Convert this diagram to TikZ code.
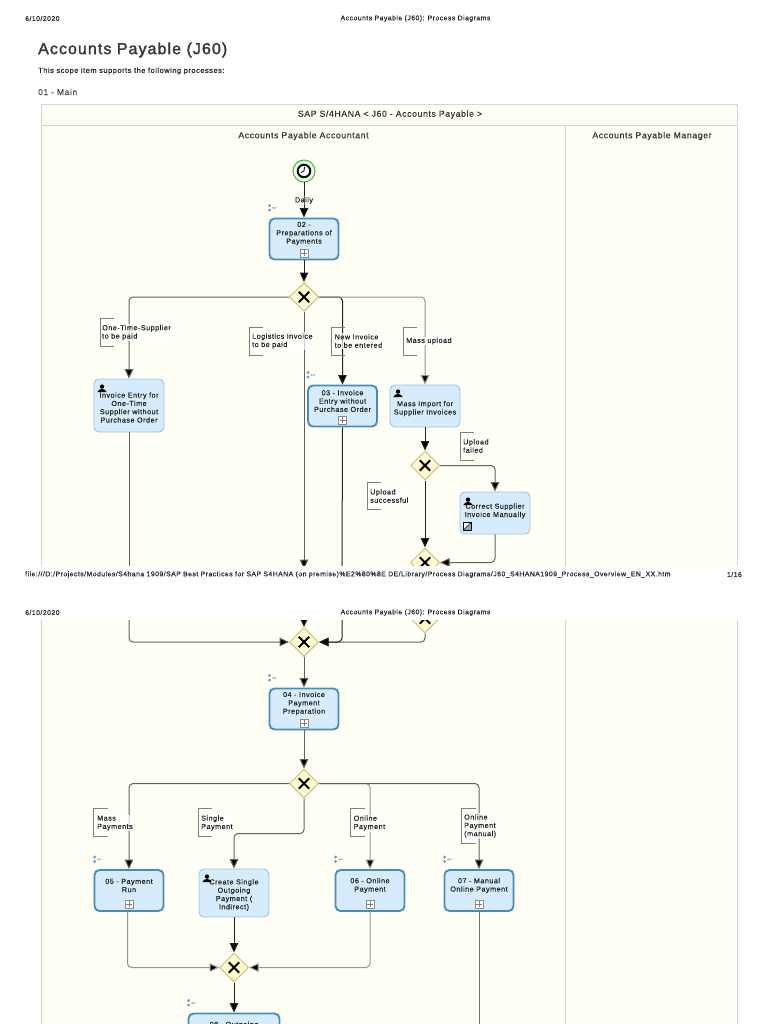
\documentclass[tikz,border=0pt]{standalone}
\usepackage{fontspec}
\setmainfont{Liberation Sans}[LetterSpace=7,FakeBold=0.25]
\usetikzlibrary{arrows.meta,shapes.geometric,calc}
\definecolor{poolbg}{HTML}{FFFFF6}
\definecolor{poolline}{HTML}{D6D6CE}
\definecolor{taskfill}{HTML}{D6EBFC}
\definecolor{taskedge}{HTML}{9CC4DE}
\definecolor{subedge}{HTML}{4A8DB4}
\definecolor{gatefill}{HTML}{FFFBCF}
\definecolor{gateedge}{HTML}{CDBE8A}
\definecolor{inkc}{HTML}{222222}
\newcommand{\tasklabel}[2]{\smash{\raisebox{\dimexpr #1pt-3pt\relax}{\parbox{68pt}{\centering\fontsize{7.2}{8.3}\selectfont #2}}}}
\tikzset{
  x=1pt,y=-1pt,
  taskbase/.style={draw,rounded corners=5pt,fill=taskfill,inner sep=0pt,text=inkc},
  usertask/.style={taskbase,draw=taskedge,line width=0.9pt,minimum width=70pt},
  subtask/.style={taskbase,draw=subedge,line width=1.9pt,minimum width=69pt,minimum height=41pt},
  gateway/.style={diamond,aspect=1,draw=gateedge,line width=1pt,fill=gatefill,minimum size=29pt,inner sep=0pt,
    path picture={\draw[black,line width=1.9pt]
      ($(path picture bounding box.center)+(-5.2,-5.2)$)--($(path picture bounding box.center)+(5.2,5.2)$)
      ($(path picture bounding box.center)+(-5.2,5.2)$)--($(path picture bounding box.center)+(5.2,-5.2)$);}},
  conn/.style={draw=inkc,line width=1pt,rounded corners=4pt,-{Triangle[length=9.5pt,width=8.5pt,fill=black]}},
  connmid/.style={conn,draw=black!62},
  connlight/.style={conn,draw=black!42},
  plainconn/.style={draw=inkc,line width=1pt,rounded corners=4pt},
  annotext/.style={anchor=west,align=left,inner sep=1pt,fill=white,fill opacity=0.7,text opacity=1,text=inkc,
     font=\fontsize{7.2}{8.3}\selectfont},
  bracket/.style={draw=black!50,line width=0.6pt},
  pagetext/.style={inner sep=0pt,text=black!85,font=\fontsize{6.85}{8}\selectfont},
  lanetext/.style={inner sep=0pt,text=black!80,font=\fontsize{8.7}{10}\selectfont},
  poolrule/.style={draw=poolline,line width=1.4pt},
  plusbox/.style={draw=black!45,line width=0.5pt,fill=white,minimum size=8pt,inner sep=0pt},
  pics/marker/.style={code={
    \fill[subedge!85] (0,0.5) circle (1.6) (0,5) circle (1.6) (3.5,2.8) circle (0.9);
    \draw[subedge!60,line width=0.5pt] (4.5,2)--(7,2.8)--(4.5,3.6);}},
  pics/person/.style={code={
    \fill[black] (0,-2.4) circle (2.2);
    \fill[black] (-4.8,3.2) .. controls (-4.5,0.6) and (-1.5,0.4) .. (0,0) .. controls (1.5,0.4) and (4.5,0.6) .. (4.8,3.2) -- cycle;}},
  pics/plus/.style={code={
    \node[plusbox] {};
    \draw[black!50,line width=0.5pt] (-3,0)--(3,0) (0,-3)--(0,3);}}
}
\begin{document}
\begin{tikzpicture}
\useasboundingbox (0,0) rectangle (768,1024);
\clip (0,0) rectangle (768,1024);
\fill[white] (0,0) rectangle (768,1024);
% pool
\fill[poolbg] (41,104) rectangle (738,1024);
\draw[poolrule] (41.5,1024) -- (41.5,104.5) -- (737.5,104.5) -- (737.5,1024);
\draw[poolrule] (41.5,125.5) -- (737.5,125.5);
\draw[poolrule] (565.5,125.5) -- (565.5,1024);

% ---------- page 1 nodes
\node[circle,draw=green!55!black!70,line width=1pt,fill=green!12!white,minimum size=22pt,inner sep=0pt] (start) at (304,171) {};
\node[circle,draw=black,line width=2pt,fill=white,minimum size=12.5pt,inner sep=0pt] (clock) at (304,171) {};
\draw[black,line width=0.8pt] (clock.center) -- +(0.5,-4) (clock.center) -- +(-2.8,1.5);
\node[subtask] (t02) at (304,239) {\tasklabel{6}{02 -\\Preparations of\\Payments}};
\node[gateway] (g1) at (304,297) {};
\node[usertask,minimum height=53pt] (t01) at (129,405.5) {\tasklabel{-1.5}{Invoice Entry for\\One-Time\\Supplier without\\Purchase Order}};
\node[subtask] (t03) at (342.5,406) {\tasklabel{5.5}{03 - Invoice\\Entry without\\Purchase Order}};
\node[usertask,minimum height=42pt] (tmass) at (425,406) {\tasklabel{-2}{Mass Import for\\Supplier Invoices}};
\node[gateway] (g2) at (425,465.5) {};
\node[usertask,minimum height=42pt] (tcorr) at (495,513) {\tasklabel{2.5}{Correct Supplier\\Invoice Manually}};
\node[gateway] (g3) at (425,562.5) {};
\coordinate (b1) at (129,570);
\coordinate (b2) at (304,569);
\coordinate (b3) at (342,570);

% ---------- page 2 nodes
\coordinate (a1) at (129,612);
\coordinate (a2) at (304,612);
\coordinate (a3) at (342,612);
\node[gateway] (g3b) at (425,618.5) {};
\node[gateway] (g4) at (304,642) {};
\node[subtask] (t04) at (304,709) {\tasklabel{6}{04 - Invoice\\Payment\\Preparation}};
\node[gateway] (g5) at (304,783.5) {};
\node[subtask] (t05) at (129,890.5) {\tasklabel{5.5}{05 - Payment\\Run}};
\node[usertask,minimum height=48pt] (tsingle) at (234,893) {\tasklabel{-1.5}{Create Single\\Outgoing\\Payment (\\Indirect)}};
\node[subtask] (t06) at (370,890.5) {\tasklabel{5.5}{06 - Online\\Payment}};
\node[subtask] (t07) at (479,890.5) {\tasklabel{5.5}{07 - Manual\\Online Payment}};
\node[gateway] (g6) at (234,967.5) {};
\node[subtask,minimum width=91pt,minimum height=42pt] (t08) at (234,1034.5) {\tasklabel{10}{08 - Outgoing}};
\coordinate (b7) at (479,1030);

% ---------- connectors
\draw[conn] (start) -- (t02);
\draw[conn] (t02) -- (g1);
\draw[connmid] (g1.west) -| (t01.north);
\draw[connmid] (g1.south) -- (b2);
\draw[conn] (g1.east) -| (t03.north);
\draw[connlight] (g1.east) -| (tmass.north);
\draw[conn] (tmass) -- (g2);
\draw[connmid] (g2.east) -| (tcorr.north);
\draw[conn] (g2) -- (g3);
\draw[connmid] (tcorr.south) |- (g3.east);
\draw[plainconn,draw=black!62] (t01.south) -- (b1);
\draw[plainconn] (t03.south) -- (b3);

\draw[connmid] (a1) |- (g4.west);
\draw[conn] (a2) -- (g4.north);
\draw[connmid] (g3b.south) |- (g4.east);
\draw[conn] (a3) |- (g4.east);
\draw[connmid] (g4) -- (t04);
\draw[connmid] (t04) -- (g5);
\draw[connmid] (g5.west) -| (t05.north);
\draw[connmid] (g5.south) |- ($(tsingle.north)+(0,-35)$) -- (tsingle.north);
\draw[connlight] (g5.east) -| (t06.north);
\draw[connmid] (g5.east) -| (t07.north);
\draw[connlight] ([xshift=-1.5pt]t05.south) |- (g6.west);
\draw[conn] (tsingle) -- (g6);
\draw[connlight] (t06.south) |- (g6.east);
\draw[conn] (g6) -- (t08);
\draw[plainconn,draw=black!55] (t07.south) -- (b7);

% ---------- markers
\foreach \t in {t02,t03,t04,t05,t06,t07}{
  \pic at ($(\t.south)+(0,-7.5)$) {plus};
  \pic at ($(\t.north west)+(1,-12.5)$) {marker};
}
\pic at ($(t08.north west)+(1,-12.5)$) {marker};
\pic at (102,389) {person};
\pic at (398,394) {person};
\pic at (468,502) {person};
\pic at (207,879) {person};
\node[draw=black,line width=0.8pt,fill=white,minimum size=8pt,inner sep=0pt,
  path picture={\draw[black,line width=1.2pt] (path picture bounding box.south west) -- (path picture bounding box.north east);
    \fill[black!35] (path picture bounding box.south east) -- (path picture bounding box.north east) -- (path picture bounding box.south west) -- cycle;}] (manual) at (467.5,526.5) {};

% ---------- annotations
\draw[bracket] (114,318.5) -| (100.5,346.5) -- (114,346.5);
\node[annotext] (n1) at (101,332.5) {One-Time-Supplier\\to be paid};
\draw[bracket] (263,327.5) -| (249.5,355.5) -- (263,355.5);
\node[annotext] (n2) at (251,341) {Logistics Invoice\\to be paid};
\draw[bracket] (345,327.5) -| (331.5,355.5) -- (345,355.5);
\node[annotext] (n3) at (333.5,341) {New Invoice\\to be entered};
\draw[bracket] (417,327.5) -| (403.5,355.5) -- (417,355.5);
\node[annotext] (n4) at (405,341) {Mass upload};
\draw[bracket] (474,432.5) -| (460.5,460) -- (474,460);
\node[annotext] (n5) at (462,446) {Upload\\failed};
\draw[bracket] (381,482) -| (367.5,509.5) -- (381,509.5);
\node[annotext] (n6) at (369,496) {Upload\\successful};
\draw[bracket] (108,808) -| (93.5,836.5) -- (108,836.5);
\node[annotext] (n7) at (96,823) {Mass\\Payments};
\draw[bracket] (212,808) -| (198.5,836.5) -- (212,836.5);
\node[annotext] (n8) at (200,823) {Single\\Payment};
\draw[bracket] (365,808) -| (350.5,836.5) -- (365,836.5);
\node[annotext] (n9) at (352.5,823) {Online\\Payment};
\draw[bracket] (476,808) -| (461.5,843) -- (476,843);
\node[annotext] (n10) at (463,826) {Online\\Payment\\(manual)};
\node[annotext,anchor=center,fill opacity=0.3] (n11) at (304,200.5) {Daily};

% ---------- page gap
\fill[white] (0,566) rectangle (768,620);

% ---------- page texts
\node[pagetext,anchor=west] (d1) at (25,18.5) {6/10/2020};
\node[pagetext] (h1) at (415.5,18.5) {Accounts Payable (J60): Process Diagrams};
\node[anchor=west,inner sep=0pt,text=black!78,font=\fontsize{15.9}{18}\selectfont] (title) at (38,50) {\addfontfeatures{FakeBold=2}Accounts Payable (J60)};
\node[pagetext,anchor=west,font=\fontsize{7.45}{9}\selectfont] (intro) at (38,71) {This scope item supports the following processes:};
\node[pagetext,anchor=west,text=black!72,font=\fontsize{8.5}{10}\selectfont] (main) at (38,92) {01 - Main};
\node[lanetext] (pool) at (390,114.5) {SAP S/4HANA < J60 - Accounts Payable >};
\node[lanetext] (lane1) at (303.5,136) {Accounts Payable Accountant};
\node[lanetext] (lane2) at (652,136) {Accounts Payable Manager};
\node[pagetext,anchor=west] (foot) at (25,574.5) {file:///D:/Projects/Modules/S4hana 1909/SAP Best Practices for SAP S4HANA (on premise)\%E2\%80\%8E DE/Library/Process Diagrams/J60\_S4HANA1909\_Process\_Overview\_EN\_XX.htm};
\node[pagetext,anchor=east] (pg) at (742,574.5) {1/16};
\node[pagetext,anchor=west] (d2) at (25,612.5) {6/10/2020};
\node[pagetext] (h2) at (415.5,612.5) {Accounts Payable (J60): Process Diagrams};
\end{tikzpicture}
\end{document}
